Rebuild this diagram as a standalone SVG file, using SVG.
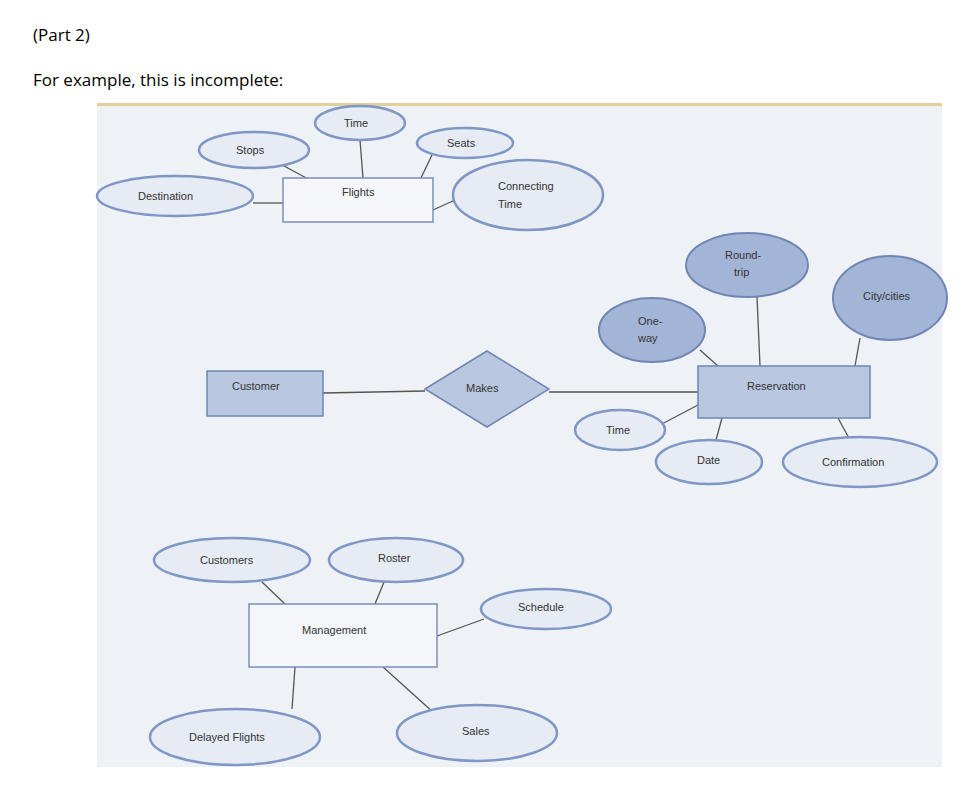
<svg xmlns="http://www.w3.org/2000/svg" width="971" height="789" viewBox="0 0 971 789">
<style>
.h{font-family:"Open Sans","Liberation Sans",sans-serif;font-size:17px;fill:#000}
.t{font-family:"Liberation Sans",sans-serif;font-size:11px;fill:#333}
.e{fill:#e6ebf4;stroke:#7f97c4;stroke-width:2.5}
.ef{fill:#a3b5d6;stroke:#6f86b4;stroke-width:2}
.r{fill:#f4f6fa;stroke:#7a8fb8;stroke-width:1.5}
.rf{fill:#b9c8e0;stroke:#6f86b4;stroke-width:1.5}
.c line{stroke:#555;stroke-width:1.3}
</style>
<rect width="971" height="789" fill="#fff"/>
<text class="h" x="33" y="41">(Part 2)</text>
<text class="h" x="33" y="86">For example, this is incomplete:</text>
<rect x="97" y="103" width="845" height="664" fill="#eef1f6"/>
<rect x="97" y="103" width="845" height="3" fill="#e2cf9a"/>
<g class="c">
<line x1="360" y1="140" x2="363" y2="178"/><line x1="284" y1="166" x2="310" y2="180"/>
<line x1="432" y1="155" x2="420" y2="180"/><line x1="253" y1="203" x2="283" y2="203"/>
<line x1="433" y1="210" x2="455" y2="200"/><line x1="757" y1="297" x2="760" y2="366"/>
<line x1="860" y1="338" x2="855" y2="366"/><line x1="700" y1="350" x2="718" y2="366"/>
<line x1="660" y1="425" x2="698" y2="405"/><line x1="716" y1="440" x2="722" y2="418"/>
<line x1="850" y1="440" x2="838" y2="418"/><line x1="323" y1="393" x2="425" y2="391"/>
<line x1="549" y1="392" x2="698" y2="392"/><line x1="262" y1="582" x2="285" y2="604"/>
<line x1="384" y1="582" x2="375" y2="604"/><line x1="484" y1="619" x2="437" y2="636"/>
<line x1="292" y1="709" x2="295" y2="667"/><line x1="434" y1="713" x2="383" y2="667"/>
</g>
<g id="time1"><ellipse class="e" cx="360" cy="123" rx="45" ry="17"/><text class="t" x="344" y="127">Time</text></g>
<g id="stops"><ellipse class="e" cx="254" cy="150" rx="55" ry="18"/><text class="t" x="236" y="154">Stops</text></g>
<g id="seats"><ellipse class="e" cx="465" cy="143" rx="48" ry="15"/><text class="t" x="447" y="147">Seats</text></g>
<g id="destination"><ellipse class="e" cx="175" cy="196" rx="78" ry="20"/><text class="t" x="138" y="200">Destination</text></g>
<g id="flights"><rect class="r" x="283" y="178" width="150" height="44"/><text class="t" x="342" y="196">Flights</text></g>
<g id="connecting"><ellipse class="e" cx="528" cy="195" rx="75" ry="35"/><text class="t" x="498" y="190">Connecting</text><text class="t" x="498" y="208">Time</text></g>
<g id="roundtrip"><ellipse class="ef" cx="747" cy="265" rx="61" ry="32"/><text class="t" x="725" y="259">Round-</text><text class="t" x="734" y="276">trip</text></g>
<g id="city"><ellipse class="ef" cx="890" cy="298" rx="57" ry="42"/><text class="t" x="863" y="300">City/cities</text></g>
<g id="oneway"><ellipse class="ef" cx="652" cy="330" rx="53" ry="32"/><text class="t" x="638" y="325">One-</text><text class="t" x="638" y="342">way</text></g>
<g id="customer"><rect class="rf" x="207" y="371" width="116" height="45"/><text class="t" x="232" y="390">Customer</text></g>
<g id="makes"><polygon class="rf" points="425,389 487,351 549,389 487,427"/><text class="t" x="466" y="392">Makes</text></g>
<g id="reservation"><rect class="rf" x="698" y="366" width="172" height="52"/><text class="t" x="747" y="390">Reservation</text></g>
<g id="time2"><ellipse class="e" cx="620" cy="430" rx="45" ry="20"/><text class="t" x="606" y="434">Time</text></g>
<g id="date"><ellipse class="e" cx="709" cy="462" rx="53" ry="22"/><text class="t" x="697" y="464">Date</text></g>
<g id="confirmation"><ellipse class="e" cx="860" cy="462" rx="77" ry="25"/><text class="t" x="822" y="466">Confirmation</text></g>
<g id="customers"><ellipse class="e" cx="232" cy="560" rx="78" ry="22"/><text class="t" x="200" y="564">Customers</text></g>
<g id="roster"><ellipse class="e" cx="396" cy="560" rx="67" ry="22"/><text class="t" x="378" y="562">Roster</text></g>
<g id="schedule"><ellipse class="e" cx="546" cy="609" rx="65" ry="20"/><text class="t" x="518" y="611">Schedule</text></g>
<g id="management"><rect class="r" x="249" y="604" width="188" height="63"/><text class="t" x="302" y="634">Management</text></g>
<g id="delayed"><ellipse class="e" cx="235" cy="737" rx="85" ry="28"/><text class="t" x="189" y="741">Delayed Flights</text></g>
<g id="sales"><ellipse class="e" cx="477" cy="733" rx="80" ry="28"/><text class="t" x="462" y="735">Sales</text></g>
</svg>
